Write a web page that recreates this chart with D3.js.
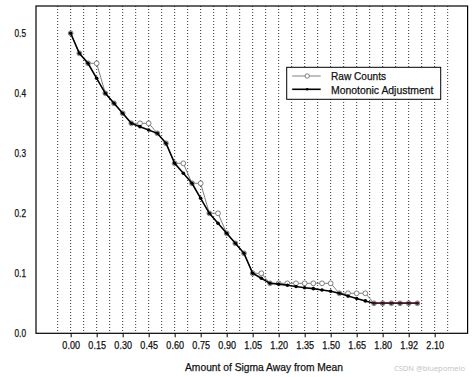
<!DOCTYPE html>
<html>
<head>
<meta charset="utf-8">
<script src="https://cdn.jsdelivr.net/npm/d3@7"></script>
<style>
  html, body { margin: 0; padding: 0; background: #fff; }
  svg { display: block; }
</style>
</head>
<body>
<div id="chart"></div>
<script>
// sigma steps along the x axis
const sigmas = [0.00, 0.05, 0.10, 0.15, 0.20, 0.25, 0.30, 0.35, 0.40, 0.45,
                0.50, 0.55, 0.60, 0.65, 0.70, 0.75, 0.80, 0.85, 0.90, 0.95,
                1.00, 1.05, 1.10, 1.15, 1.20, 1.25, 1.30, 1.35, 1.40, 1.45,
                1.50, 1.55, 1.60, 1.65, 1.70, 1.75, 1.80, 1.85, 1.90, 1.95, 2.00];
const rawCounts = [0.5, 0.4667, 0.45, 0.45, 0.40, 0.3833, 0.3667, 0.35, 0.35, 0.35,
                   0.3333, 0.3167, 0.2833, 0.2833, 0.25, 0.25, 0.20, 0.20, 0.1667, 0.15,
                   0.1333, 0.10, 0.10, 0.0833, 0.0833, 0.0833, 0.0833, 0.0833, 0.0833, 0.0833,
                   0.0833, 0.0667, 0.0667, 0.0667, 0.0667, 0.05, 0.05, 0.05, 0.05, 0.05, 0.05];
const monotonic = [0.5, 0.4667, 0.45, 0.425, 0.40, 0.3833, 0.3667, 0.35, 0.3444, 0.3389,
                   0.3333, 0.3167, 0.2833, 0.2667, 0.25, 0.225, 0.20, 0.1833, 0.1667, 0.15,
                   0.1333, 0.10, 0.0917, 0.0833, 0.082, 0.080, 0.078, 0.076, 0.0744, 0.0722,
                   0.070, 0.0667, 0.062, 0.058, 0.054, 0.05, 0.05, 0.05, 0.05, 0.05, 0.05];
const xTicks = [0.00, 0.15, 0.30, 0.45, 0.60, 0.75, 0.90, 1.05, 1.20, 1.35, 1.50, 1.65, 1.80, 1.95, 2.10];
const xTickLabels = ["0.00", "0.15", "0.30", "0.45", "0.60", "0.75", "0.90", "1.05", "1.20", "1.35", "1.50", "1.65", "1.80", "1.92", "2.10"];
const gridSteps = [-0.075, 0, 0.075, 0.15, 0.225, 0.30, 0.375, 0.45, 0.525, 0.60, 0.675, 0.75, 0.825, 0.90, 0.975,
                   1.05, 1.125, 1.20, 1.275, 1.35, 1.425, 1.50, 1.575, 1.65, 1.725, 1.80, 1.875, 1.95, 2.025, 2.10, 2.175];
const yTicks = [0.0, 0.1, 0.2, 0.3, 0.4, 0.5];
const seriesNames = ["Raw Counts", "Monotonic Adjustment"];

const width = 474, height = 377;
const font = "'Liberation Sans', Arial, sans-serif";

// narrow-ish text: squeeze a regular face to the condensed widths of the original
function styleText(sel, size, len) {
    sel.style("font-family", font).style("font-size", size + "px")
        .style("fill", "#111").style("stroke", "#111").style("stroke-width", 0.25);
    if (len) sel.attr("textLength", len).attr("lengthAdjust", "spacingAndGlyphs");
    return sel;
}

const svg = d3.select("#chart").append("svg").attr("width", width).attr("height", height);

const x = d3.scaleLinear().domain([-0.2, 2.29]).range([36, 467.6]);
const y = d3.scaleLinear().domain([0, 0.5455]).range([333.3, 6]);

// dotted verticals
svg.append("g").selectAll("line").data(gridSteps).enter().append("line")
    .attr("x1", d => x(d)).attr("x2", d => x(d))
    .attr("y1", y.range()[1]).attr("y2", y.range()[0])
    .attr("stroke", "#333").attr("stroke-width", 1).attr("stroke-dasharray", "1,2");

// box
svg.append("rect")
    .attr("x", x.range()[0]).attr("y", y.range()[1])
    .attr("width", x.range()[1] - x.range()[0]).attr("height", y.range()[0] - y.range()[1])
    .attr("fill", "none").attr("stroke", "#000").attr("stroke-width", 1.2);

// x axis
const xAxis = svg.append("g").attr("transform", `translate(0,${y(0)})`)
    .call(d3.axisBottom(x).tickValues(xTicks).tickSize(4).tickSizeOuter(0)
        .tickFormat((d, i) => xTickLabels[i]));
xAxis.select(".domain").remove();
xAxis.selectAll("line").attr("stroke", "#000");
styleText(xAxis.selectAll("text").attr("dy", null).attr("y", 16), 10, 17.6);

// y axis
const yAxis = svg.append("g").attr("transform", `translate(${x.range()[0]},0)`)
    .call(d3.axisLeft(y).tickValues(yTicks).tickSize(0).tickPadding(10).tickFormat(d3.format(".1f")));
yAxis.select(".domain").remove();
styleText(yAxis.selectAll("text"), 10, 11.5);

const pts = (vals) => sigmas.map((s, i) => ({ s, v: vals[i] }));
const line = d3.line().x(d => x(d.s)).y(d => y(d.v));

// raw counts
svg.append("path").datum(pts(rawCounts))
    .attr("fill", "none").attr("stroke", "#808080").attr("stroke-width", 1).attr("d", line);
svg.append("g").selectAll("circle").data(pts(rawCounts)).enter().append("circle")
    .attr("cx", d => x(d.s)).attr("cy", d => y(d.v)).attr("r", 2.4)
    .attr("fill", "#fff").attr("stroke", "#707070").attr("stroke-width", 0.9);

// monotonic adjustment
svg.append("path").datum(pts(monotonic))
    .attr("fill", "none").attr("stroke", "#000").attr("stroke-width", 1.6).attr("d", line);
svg.append("path").datum(pts(monotonic).filter(d => d.s >= 1.75))
    .attr("fill", "none").attr("stroke", "#4a1a2c").attr("stroke-width", 1.6).attr("d", line);
svg.append("g").selectAll("circle").data(pts(monotonic)).enter().append("circle")
    .attr("cx", d => x(d.s)).attr("cy", d => y(d.v)).attr("r", 1.8)
    .attr("fill", d => d.s >= 1.75 ? "#3a1222" : "#000");

// axis title
styleText(svg.append("text").attr("x", 185).attr("y", 371)
    .text("Amount of Sigma Away from Mean"), 11.5, 158);

// watermark
svg.append("text").attr("x", 465).attr("y", 371).attr("text-anchor", "end")
    .style("font-family", "'Noto Sans', sans-serif").style("font-size", "7.5px").style("fill", "#c4c4c4")
    .text("CSDN @bluepomelo");

// legend
const legend = svg.append("g").attr("transform", "translate(286.7,67.3)");
legend.append("rect").attr("width", 154).attr("height", 32)
    .attr("fill", "#fff").attr("stroke", "#000").attr("stroke-width", 1);
const legendWidths = [55, 102.5];
seriesNames.forEach((name, i) => {
    const row = legend.append("g").attr("transform", `translate(0,${8.7 + i * 13.3})`);
    row.append("line").attr("x1", 5.5).attr("x2", 34)
        .attr("stroke", i === 0 ? "#808080" : "#000").attr("stroke-width", i === 0 ? 1 : 1.6);
    if (i === 0) {
        row.append("circle").attr("cx", 20.5).attr("r", 2.2)
            .attr("fill", "#fff").attr("stroke", "#707070").attr("stroke-width", 0.9);
    } else {
        row.append("circle").attr("cx", 20.5).attr("r", 1.3).attr("fill", "#000");
    }
    styleText(row.append("text").attr("x", 44.3).attr("y", 4.2).text(name), 11.5, legendWidths[i]);
});
</script>
</body>
</html>
